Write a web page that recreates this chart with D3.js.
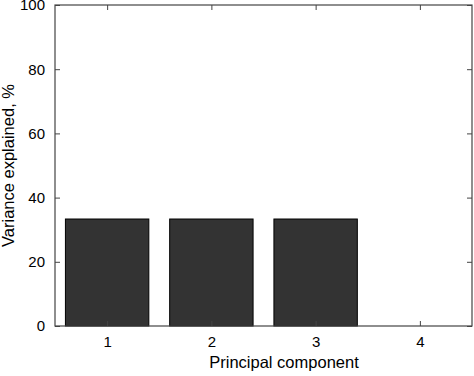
<!DOCTYPE html>
<html>
<head>
<meta charset="utf-8">
<script src="https://cdn.jsdelivr.net/npm/d3@7"></script>
<style>
  body { margin: 0; background: #fff; }
  svg text { font-family: "Liberation Sans", Arial, sans-serif; fill: #000; }
</style>
</head>
<body>
<div id="chart"></div>
<script>
// ---- Data ----
const components = [1, 2, 3, 4];
const varianceExplained = [33.33, 33.33, 33.33, 0];
const yTicks = [0, 20, 40, 60, 80, 100];

const W = 474, H = 376;
const margin = { top: 5, right: 2, bottom: 50, left: 55 };
const width = W - margin.left - margin.right;
const height = H - margin.top - margin.bottom;

const svg = d3.select("#chart").append("svg")
  .attr("width", W).attr("height", H)
  .append("g")
  .attr("transform", `translate(${margin.left},${margin.top})`);

// ---- Scales ----
const x = d3.scaleLinear().domain([0.5, 4.5]).range([0, width]);
const y = d3.scaleLinear().domain([0, 100]).range([height, 0]);
const barW = (x(1) - x(0)) * 0.8;

// ---- Bars ----
svg.selectAll("rect.bar")
  .data(components.map((c, i) => ({ c, v: varianceExplained[i] })).filter(d => d.v > 0))
  .join("rect")
  .attr("class", "bar")
  .attr("x", d => x(d.c) - barW / 2)
  .attr("y", d => y(d.v))
  .attr("width", barW)
  .attr("height", d => y(0) - y(d.v))
  .attr("fill", "#333333")
  .attr("stroke", "#000")
  .attr("stroke-width", 1);

// ---- Axes (inward ticks, boxed) ----
const tickLen = 5;
const axisColor = "#444";

function styleAxis(g) {
  g.select(".domain").remove();
  g.selectAll(".tick line").attr("stroke", axisColor);
  g.selectAll(".tick text").style("font-size", "15px");
}

svg.append("g")
  .attr("transform", `translate(0,${height})`)
  .call(d3.axisBottom(x).tickValues(components).tickFormat(d3.format("d"))
    .tickSizeInner(-tickLen).tickSizeOuter(0).tickPadding(10))
  .call(styleAxis);

svg.append("g")
  .call(d3.axisTop(x).tickValues(components).tickFormat("")
    .tickSizeInner(-tickLen).tickSizeOuter(0))
  .call(styleAxis);

svg.append("g")
  .call(d3.axisLeft(y).tickValues(yTicks)
    .tickSizeInner(-tickLen).tickSizeOuter(0).tickPadding(10))
  .call(styleAxis);

svg.append("g")
  .attr("transform", `translate(${width},0)`)
  .call(d3.axisRight(y).tickValues(yTicks).tickFormat("")
    .tickSizeInner(-tickLen).tickSizeOuter(0))
  .call(styleAxis);

// box
svg.append("rect")
  .attr("x", 0).attr("y", 0)
  .attr("width", width).attr("height", height)
  .attr("fill", "none")
  .attr("stroke", axisColor)
  .attr("stroke-width", 1.2);

// ---- Labels ----
svg.append("text")
  .attr("x", 229).attr("y", height + 42)
  .attr("text-anchor", "middle")
  .style("font-size", "16.5px")
  .text("Principal component");

svg.append("text")
  .attr("transform", `translate(${-41},${height / 2}) rotate(-90)`)
  .attr("text-anchor", "middle")
  .style("font-size", "16.5px")
  .text("Variance explained, %");
</script>
</body>
</html>
